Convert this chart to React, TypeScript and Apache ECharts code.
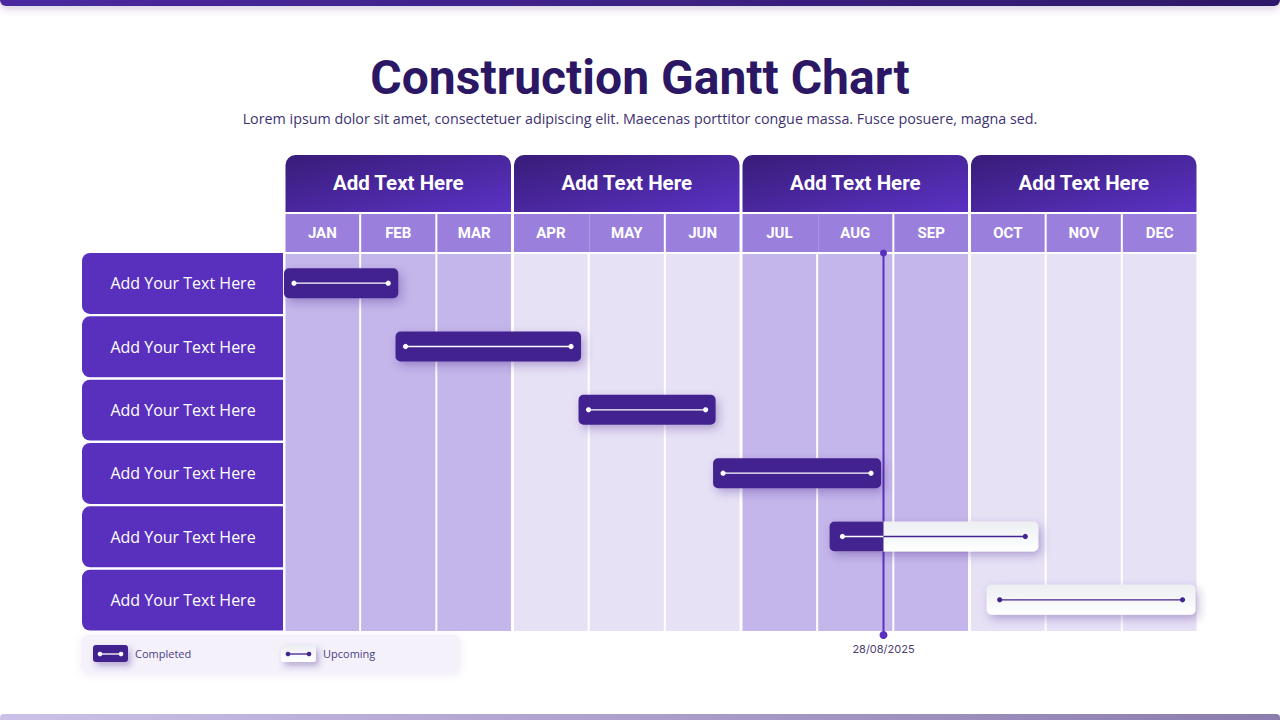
import React, { useEffect, useRef } from "react";
import * as echarts from "echarts";

const TITLE = "Construction Gantt Chart";
const SUBTITLE =
  "Lorem ipsum dolor sit amet, consectetuer adipiscing elit. Maecenas porttitor congue massa. Fusce posuere, magna sed.";
const MONTHS = ["JAN", "FEB", "MAR", "APR", "MAY", "JUN", "JUL", "AUG", "SEP", "OCT", "NOV", "DEC"];
const QUARTERS = ["Add Text Here", "Add Text Here", "Add Text Here", "Add Text Here"];
const TASKS = [
  "Add Your Text Here",
  "Add Your Text Here",
  "Add Your Text Here",
  "Add Your Text Here",
  "Add Your Text Here",
  "Add Your Text Here",
];
const START_DATES = ["2025-01-01", "2025-02-14", "2025-04-27", "2025-06-20", "2025-08-06", "2025-10-08"];
const END_DATES = ["2025-02-15", "2025-04-28", "2025-06-21", "2025-08-27", "2025-10-29", "2025-12-31"];
const TODAY = "2025-08-28";
// header month cells with no divider after them (as in the reference)
const HEADER_MERGED_AFTER = [3, 6];

const LEGEND_ITEMS = ["Completed", "Upcoming"];

const DARK_BAR = "#43238f";
const LABEL_BOX = "#5930be";
const Q_DARK = "#c4b6ea";
const Q_LIGHT = "#e7e1f6";
const MONTH_HEAD = "#9b7fdd";
const LINE_COLOR = "#5a30c0";

function monthValue(d: string): number {
  const [y, m, day] = d.split("-").map(Number);
  const dim = new Date(y, m, 0).getDate();
  return m - 1 + (day - 1) / dim;
}

function fmtDate(d: string): string {
  const [y, m, day] = d.split("-");
  return `${day}/${m}/${y}`;
}

const TODAY_VAL = monthValue(TODAY);

export default function App() {
  const ref = useRef<HTMLDivElement>(null);

  useEffect(() => {
    if (!ref.current) return;
    const chart = echarts.init(ref.current, undefined, { renderer: "svg" });

    const shadow = {
      shadowBlur: 10,
      shadowColor: "rgba(70,40,140,0.35)",
      shadowOffsetX: 3,
      shadowOffsetY: 4,
    };
    const whiteFill = new echarts.graphic.LinearGradient(0, 0, 0, 1, [
      { offset: 0, color: "#eceef2" },
      { offset: 1, color: "#ffffff" },
    ]);

    const option: any = {
      animation: false,
      backgroundColor: "#ffffff",
      grid: { left: 284, right: 82, top: 253, height: 380 },
      xAxis: { type: "value", min: 0, max: 12, interval: 1, show: false },
      yAxis: { type: "category", data: TASKS, inverse: true, show: false },
      graphic: [
        {
          type: "rect",
          shape: { x: 0, y: -8, width: 1280, height: 14, r: 6 },
          style: {
            fill: new echarts.graphic.LinearGradient(0, 0, 1, 0, [
              { offset: 0, color: "#4b2aa1" },
              { offset: 1, color: "#2e1868" },
            ]),
            shadowBlur: 8,
            shadowColor: "rgba(60,30,120,0.25)",
            shadowOffsetY: 2,
          },
          z: 10,
        },
        {
          type: "rect",
          shape: { x: 0, y: 714, width: 1280, height: 12, r: 4 },
          style: {
            fill: new echarts.graphic.LinearGradient(0, 0, 1, 0, [
              { offset: 0, color: "#cbc1e8" },
              { offset: 1, color: "#8b7cae" },
            ]),
          },
          z: 10,
        },
        {
          type: "text",
          x: 640,
          y: 77,
          style: {
            text: TITLE,
            fill: "#2b1763",
            font: "700 48px Roboto",
            textAlign: "center",
            textVerticalAlign: "middle",
          },
        },
        {
          type: "text",
          x: 640,
          y: 118,
          style: {
            text: SUBTITLE,
            fill: "#3d3272",
            font: "400 14.3px 'Open Sans'",
            textAlign: "center",
            textVerticalAlign: "middle",
          },
        },
        {
          type: "rect",
          shape: { x: 82, y: 635, width: 378, height: 37, r: 6 },
          style: { fill: "#f4f1fb", shadowBlur: 8, shadowColor: "rgba(90,60,160,0.10)", shadowOffsetY: 2 },
        },
        ...LEGEND_ITEMS.flatMap((name, k) => {
          const x = k === 0 ? 93 : 281;
          const done = k === 0;
          const fg = done ? "#ffffff" : DARK_BAR;
          return [
            {
              type: "rect",
              shape: { x, y: 645, width: 35, height: 17, r: 3 },
              style: { fill: done ? DARK_BAR : whiteFill, ...shadow, shadowBlur: 6 },
              z: 2,
            },
            { type: "line", shape: { x1: x + 7, y1: 654, x2: x + 28, y2: 654 }, style: { stroke: fg, lineWidth: 1.3 }, z: 3 },
            { type: "circle", shape: { cx: x + 7, cy: 654, r: 2.3 }, style: { fill: fg }, z: 3 },
            { type: "circle", shape: { cx: x + 28, cy: 654, r: 2.3 }, style: { fill: fg }, z: 3 },
            {
              type: "text",
              x: x + 42,
              y: 653.5,
              style: {
                text: name,
                fill: "#4b4080",
                font: "400 11px 'Open Sans'",
                textVerticalAlign: "middle",
              },
              z: 3,
            },
          ];
        }),
      ],
      series: [
        {
          type: "custom",
          name: "quarters",
          z: 1,
          silent: true,
          data: QUARTERS.map((q, i) => [i]),
          renderItem: (params: any, api: any) => {
            const q = api.value(0);
            const cs = params.coordSys;
            const x0 = api.coord([q * 3, 0])[0] + 1.5;
            const x1 = api.coord([q * 3 + 3, 0])[0] - 1.5;
            return {
              type: "group",
              children: [
                {
                  type: "rect",
                  shape: { x: x0, y: cs.y - 98, width: x1 - x0, height: 57, r: [10, 10, 0, 0] },
                  style: {
                    fill: new echarts.graphic.LinearGradient(0, 0, 1, 1, [
                      { offset: 0, color: "#381c78" },
                      { offset: 1, color: "#5b32c4" },
                    ]),
                  },
                },
                {
                  type: "text",
                  x: (x0 + x1) / 2,
                  y: cs.y - 70,
                  style: {
                    text: QUARTERS[q],
                    fill: "#ffffff",
                    font: "700 20.5px Roboto",
                    textAlign: "center",
                    textVerticalAlign: "middle",
                  },
                },
              ],
            };
          },
        },
        {
          type: "custom",
          name: "months",
          z: 1,
          silent: true,
          data: MONTHS.map((m, i) => [i]),
          renderItem: (params: any, api: any) => {
            const i = api.value(0);
            const cs = params.coordSys;
            const x0 = api.coord([i, 0])[0];
            const x1 = api.coord([i + 1, 0])[0];
            const l = x0 + (i % 3 === 0 ? 1.5 : 1);
            const r = x1 - (i % 3 === 2 ? 1.5 : 1);
            const hr = HEADER_MERGED_AFTER.includes(i) ? x1 + 1 : r;
            const quarter = Math.floor(i / 3);
            return {
              type: "group",
              children: [
                {
                  type: "rect",
                  shape: { x: l, y: cs.y + 1, width: r - l, height: cs.height - 3 },
                  style: { fill: quarter % 2 === 0 ? Q_DARK : Q_LIGHT },
                },
                {
                  type: "rect",
                  shape: { x: l, y: cs.y - 39, width: hr - l, height: 38 },
                  style: { fill: MONTH_HEAD },
                },
                {
                  type: "text",
                  x: (l + r) / 2,
                  y: cs.y - 20,
                  z2: 5,
                  style: {
                    text: MONTHS[i],
                    fill: "#ffffff",
                    font: "700 15px Roboto",
                    textAlign: "center",
                    textVerticalAlign: "middle",
                  },
                },
              ],
            };
          },
        },
        {
          type: "custom",
          name: "rows",
          z: 2,
          silent: true,
          data: TASKS.map((t, i) => [0, i]),
          renderItem: (params: any, api: any) => {
            const i = api.value(1);
            const cs = params.coordSys;
            const yc = api.coord([0, i])[1];
            const band = api.size([0, 1])[1];
            const top = yc - band / 2;
            return {
              type: "group",
              children: [
                {
                  type: "rect",
                  shape: { x: cs.x - 202, y: top, width: 201, height: band - 2.4, r: [8, 0, 0, 8] },
                  style: { fill: LABEL_BOX },
                },
                {
                  type: "text",
                  x: cs.x - 101,
                  y: yc - 1.5,
                  style: {
                    text: TASKS[i],
                    fill: "#ffffff",
                    font: "400 16px 'Open Sans'",
                    textAlign: "center",
                    textVerticalAlign: "middle",
                  },
                },
              ],
            };
          },
        },
        {
          type: "custom",
          name: "today",
          z: 3,
          silent: true,
          data: [[TODAY_VAL]],
          renderItem: (params: any, api: any) => {
            const cs = params.coordSys;
            const x = api.coord([api.value(0), 0])[0];
            const y0 = cs.y;
            const y1 = cs.y + cs.height + 2;
            return {
              type: "group",
              children: [
                { type: "line", shape: { x1: x, y1: y0, x2: x, y2: y1 }, style: { stroke: LINE_COLOR, lineWidth: 2 } },
                { type: "circle", shape: { cx: x, cy: y0, r: 3.5 }, style: { fill: LINE_COLOR } },
                { type: "circle", shape: { cx: x, cy: y1, r: 4 }, style: { fill: LINE_COLOR } },
                {
                  type: "text",
                  x: x,
                  y: y1 + 14,
                  style: {
                    text: fmtDate(TODAY),
                    fill: "#4a4070",
                    font: "400 11px Inter",
                    textAlign: "center",
                    textVerticalAlign: "middle",
                  },
                },
              ],
            };
          },
        },
        {
          type: "custom",
          name: "tasks",
          z: 4,
          silent: true,
          encode: { x: [1, 2], y: 0 },
          data: TASKS.map((t, i) => [i, monthValue(START_DATES[i]), monthValue(END_DATES[i])]),
          renderItem: (params: any, api: any) => {
            const row = api.value(0);
            const s = api.value(1);
            const e = api.value(2);
            const xs = api.coord([s, row])[0];
            const xe = api.coord([e, row])[0];
            const yc = api.coord([s, row])[1] - 1.5;
            const h = 30;
            const top = yc - h / 2;
            const ls = xs + 10;
            const le = xe - 10;
            const children: any[] = [];
            if (e <= TODAY_VAL) {
              children.push({
                type: "rect",
                shape: { x: xs, y: top, width: xe - xs, height: h, r: 5 },
                style: { fill: DARK_BAR, ...shadow },
              });
              children.push({ type: "line", shape: { x1: ls, y1: yc, x2: le, y2: yc }, style: { stroke: "#ffffff", lineWidth: 1.3 } });
              children.push({ type: "circle", shape: { cx: ls, cy: yc, r: 2.6 }, style: { fill: "#ffffff" } });
              children.push({ type: "circle", shape: { cx: le, cy: yc, r: 2.6 }, style: { fill: "#ffffff" } });
            } else if (s >= TODAY_VAL) {
              children.push({
                type: "rect",
                shape: { x: xs, y: top, width: xe - xs, height: h, r: 5 },
                style: { fill: whiteFill, ...shadow },
              });
              children.push({ type: "line", shape: { x1: ls + 3, y1: yc, x2: le - 3, y2: yc }, style: { stroke: DARK_BAR, lineWidth: 1.3 } });
              children.push({ type: "circle", shape: { cx: ls + 3, cy: yc, r: 2.6 }, style: { fill: DARK_BAR } });
              children.push({ type: "circle", shape: { cx: le - 3, cy: yc, r: 2.6 }, style: { fill: DARK_BAR } });
            } else {
              const xt = api.coord([TODAY_VAL, row])[0];
              children.push({
                type: "rect",
                shape: { x: xs, y: top, width: xe - xs, height: h, r: 5 },
                style: { fill: whiteFill, ...shadow },
              });
              children.push({
                type: "rect",
                shape: { x: xs, y: top, width: xt - xs, height: h, r: [5, 0, 0, 5] },
                style: { fill: DARK_BAR },
              });
              children.push({ type: "line", shape: { x1: ls + 3, y1: yc, x2: xt, y2: yc }, style: { stroke: "#ffffff", lineWidth: 1.3 } });
              children.push({ type: "line", shape: { x1: xt, y1: yc, x2: le - 3, y2: yc }, style: { stroke: DARK_BAR, lineWidth: 1.3 } });
              children.push({ type: "circle", shape: { cx: ls + 3, cy: yc, r: 2.6 }, style: { fill: "#ffffff" } });
              children.push({ type: "circle", shape: { cx: le - 3, cy: yc, r: 2.6 }, style: { fill: DARK_BAR } });
            }
            return { type: "group", children };
          },
        },
      ],
    };

    chart.setOption(option);
    return () => chart.dispose();
  }, []);

  return (
    <div
      ref={ref}
      style={{ position: "fixed", left: 0, top: 0, width: 1280, height: 720, background: "#ffffff" }}
    />
  );
}
